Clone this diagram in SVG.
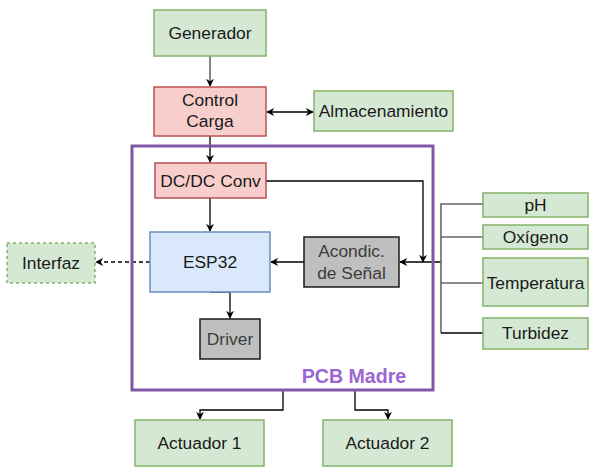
<svg xmlns="http://www.w3.org/2000/svg" width="591" height="475" viewBox="0 0 591 475">
<style>
text{font-family:"Liberation Sans",Arial,sans-serif;font-size:17.4px;fill:#1a1a1a;text-anchor:middle}
.g{fill:#d5e8d4;stroke:#82b366;stroke-width:1.5}
.r{fill:#f8cecc;stroke:#b85450;stroke-width:1.5}
.b{fill:#dae8fc;stroke:#6c8ebf;stroke-width:1.5}
.k{fill:#bfbfbf;stroke:#1a1a1a;stroke-width:1.5}
.kt{fill:#3c3c3c}
.e{fill:none;stroke:#000;stroke-width:1.3}
.eg{fill:none;stroke:#666;stroke-width:1.6}
</style>
<defs>
<marker id="a" viewBox="0 0 10 10" refX="9" refY="5" markerWidth="8" markerHeight="8" markerUnits="userSpaceOnUse" orient="auto-start-reverse">
<path d="M0,0 L10,5 L0,10 L3,5 Z" fill="#000"/>
</marker>
</defs>
<g id="connectors">
<path class="eg" d="M210,56 V86" marker-end="url(#a)"/>
<path class="e" d="M267,112 H313" marker-start="url(#a)" marker-end="url(#a)"/>
<path class="e" d="M210,136 V162" marker-end="url(#a)"/>
<path class="e" d="M210,198 V231" marker-end="url(#a)"/>
<path class="e" d="M266,181 H423 V262" marker-end="url(#a)"/>
<path class="e" d="M441,262 H400" marker-end="url(#a)"/>
<path class="e" d="M304,262 H271" marker-end="url(#a)"/>
<path class="e" d="M150,262 H96" stroke-dasharray="4 3" marker-end="url(#a)"/>
<path class="e" d="M210,292 H230 V318" marker-end="url(#a)"/>
<path class="eg" d="M483,204 H441 V333"/>
<path class="eg" d="M483,237 H441"/>
<path class="eg" d="M483,283 H441"/>
<path class="e" d="M483,333 H441"/>
<path class="e" d="M283,391 V410 H200 V419" marker-end="url(#a)"/>
<path class="e" d="M355,391 V410 H388 V419" marker-end="url(#a)"/>
</g>
<g id="pcb">
<rect x="132" y="146" width="301" height="244" fill="none" stroke="#8157a5" stroke-width="3"/>
<text x="354" y="383" style="font-weight:bold;font-size:19.6px;fill:#9d65d0">PCB Madre</text>
</g>
<g id="generador"><rect class="g" x="154" y="10" width="112" height="46"/><text x="210" y="39">Generador</text></g>
<g id="control"><rect class="r" x="154" y="87" width="112" height="49"/><text x="210" y="106">Control</text><text x="210" y="127">Carga</text></g>
<g id="almacenamiento"><rect class="g" x="314" y="91" width="139" height="40"/><text x="383.5" y="117">Almacenamiento</text></g>
<g id="dcdc"><rect class="r" x="155" y="163" width="111" height="35"/><text x="210.5" y="187">DC/DC Conv</text></g>
<g id="esp32"><rect class="b" x="150" y="232" width="120" height="60"/><text x="210" y="268">ESP32</text></g>
<g id="interfaz"><rect class="g" x="7" y="243" width="88" height="40" stroke-dasharray="3 3"/><text x="51" y="269">Interfaz</text></g>
<g id="driver"><rect class="k" x="200" y="319" width="60" height="40"/><text class="kt" x="230" y="345">Driver</text></g>
<g id="acondic"><rect class="k" x="304" y="237" width="95" height="50"/><text class="kt" x="351.5" y="257">Acondic.</text><text class="kt" x="351.5" y="279">de Señal</text></g>
<g id="ph"><rect class="g" x="483" y="193" width="105" height="24"/><text x="535.5" y="211">pH</text></g>
<g id="oxigeno"><rect class="g" x="483" y="225" width="105" height="24"/><text x="535.5" y="243">Oxígeno</text></g>
<g id="temperatura"><rect class="g" x="483" y="258" width="105" height="48"/><text x="535.5" y="289">Temperatura</text></g>
<g id="turbidez"><rect class="g" x="483" y="318" width="105" height="31"/><text x="535.5" y="339">Turbidez</text></g>
<g id="actuador1"><rect class="g" x="135" y="420" width="129" height="46"/><text x="199.5" y="449">Actuador 1</text></g>
<g id="actuador2"><rect class="g" x="323" y="420" width="129" height="46"/><text x="387.5" y="449">Actuador 2</text></g>
</svg>
